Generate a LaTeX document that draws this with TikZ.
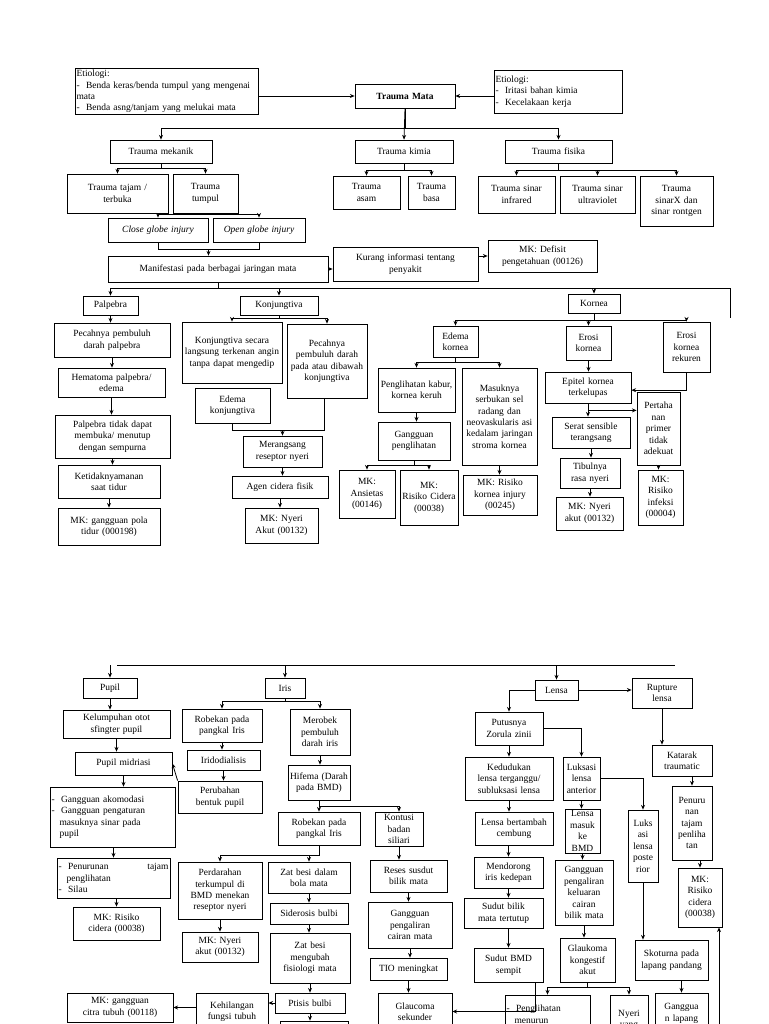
\documentclass[tikz,border=0pt]{standalone}
\usepackage{fontspec}
\setmainfont{Liberation Serif}
\usetikzlibrary{arrows.meta,calc}
\hyphenpenalty=10000 \exhyphenpenalty=10000 \tolerance=9999 \emergencystretch=10pt
\tikzset{
 bx/.style={draw,line width=0.6pt,inner sep=1.2pt,font=\fontsize{7.1pt}{8.6pt}\selectfont},
 ar/.style={line width=0.6pt,-{Stealth[length=3.5pt,width=3pt]}},
 ln/.style={line width=0.6pt}
}
\newcommand\B[7][center]{\pgfmathsetmacro\bw{(#5-#3)*0.75}\pgfmathsetmacro\bh{(#6-#4)*0.75}\pgfmathsetmacro\tw{(#5-#3)*0.75-2.4}%
\node[bx,align=#1,minimum width=\bw pt,minimum height=\bh pt,text width=\tw pt] (#2) at ({(#3+#5)/2},{(#4+#6)/2}) {#7};}
\begin{document}
\begin{tikzpicture}[x=0.75pt,y=-0.75pt]
\useasboundingbox (0,0) rectangle (768,1024);
\clip (0,0) rectangle (768,1024);
\fill[white] (0,0) rectangle (768,1024);
% ---- top
\B[left]{e1}{75}{70}{258}{113}{Etiologi:\\- \ Benda keras/benda tumpul yang mengenai mata\\- \ Benda asng/tanjam yang melukai mata}
\B{tm}{355}{84}{455}{108}{\textbf{Trauma Mata}}
\B[left]{e2}{494}{70}{622}{113}{Etiologi:\\- \ Iritasi bahan kimia\\- \ Kecelakaan kerja}
\draw[ar] (e1.east|-tm) -- (tm.west);
\draw[ar] (e2.west|-tm) -- (tm.east);
\B{mek}{110}{140}{212}{163}{Trauma mekanik}
\B{kim}{355}{140}{453}{163}{Trauma kimia}
\B{fis}{505}{140}{612}{163}{Trauma fisika}
\draw[ar] (tm.south) -- ++(0,20) -| (mek.north);
\draw[ar] (tm.south) -- (kim.north);
\draw[ar] (tm.south) -- ++(0,20) -| (fis.north);
\B{taj}{67}{174}{168}{213}{Trauma tajam /\\terbuka}
\B{tum}{173}{174}{238}{213}{Trauma\\tumpul}
\draw[ar] (mek.south) -- ++(0,5) -| (taj.north);
\draw[ar] (mek.south) -- ++(0,5) -| (tum.north);
\B{asa}{333}{176}{400}{209}{Trauma\\asam}
\B{bas}{408}{176}{455}{209}{Trauma\\basa}
\draw[ar] (kim.south) -- ++(0,7) -| (asa.north);
\draw[ar] (kim.south) -- ++(0,7) -| (bas.north);
\B{inf}{478}{176}{555}{213}{Trauma sinar infrared}
\B{ult}{560}{176}{635}{213}{Trauma sinar ultraviolet}
\B{snx}{640}{176}{713}{226}{Trauma\\sinarX dan\\sinar rontgen}
\draw[ar] (fis.south) -- ++(0,7) -| (inf.north);
\draw[ar] (fis.south) -- ++(0,7) -| (ult.north);
\draw[ar] (fis.south) -- ++(0,7) -| (snx.north);
\B{cg}{108}{218}{208}{242}{\textit{Close globe injury}}
\B{og}{213}{218}{305}{242}{\textit{Open globe injury}}
\draw[ar] (tum.south) -- ++(0,1) -| (cg.north);
\draw[ar] (tum.south) -- ++(0,1) -| (og.north);
\B{man}{108}{256}{328}{282}{Manifestasi pada berbagai jaringan mata}
\coordinate (cgm) at ($(cg.south)!0.5!(og.south)$);
\draw[ln] (cg.south) -- ++(0,7) -| (og.south);
\draw[ar] ([yshift=-5.25pt]cgm) -- (cgm|-man.north);
\B{kur}{333}{247}{478}{281}{Kurang informasi tentang\\penyakit}
\B{def}{488}{240}{597}{272}{MK: Defisit\\pengetahuan (00126)}
\draw[ar] (man.east) -- (man.east-|kur.west);
\draw[ar] (kur.east|-def) -- (def.west);
% ---- manifestations
\B{pal}{83}{296}{138}{315}{Palpebra}
\B{kon}{240}{296}{318}{315}{Konjungtiva}
\B{kor}{568}{294}{620}{313}{Kornea}
\coordinate (kend) at (730,318);
\draw[ar] (man.south) -- ++(0,6) -| (pal.north);
\draw[ar] (man.south) -- ++(0,6) -| (kon.north);
\draw[ar] (man.south) -- ++(0,6) -| (kor.north);
\draw[ln] (man.south) -- ++(0,6) -| (kend);
% palpebra
\B{p1}{54}{323}{170}{357}{Pecahnya pembuluh darah palpebra}
\B{p2}{58}{368}{165}{397}{Hematoma palpebra/\\edema}
\B{p3}{55}{415}{170}{458}{Palpebra tidak dapat membuka/ menutup dengan sempurna}
\B{p4}{58}{465}{160}{498}{Ketidaknyamanan saat tidur}
\B{p5}{58}{508}{160}{545}{MK: gangguan pola tidur (000198)}
\draw[ar] (pal.south) -- (pal.south|-p1.north);
\draw[ar] (p1.south) -- (p1.south|-p2.north);
\draw[ar] (p2.south) -- (p2.south|-p3.north);
\draw[ar] (p3.south) -- (p3.south|-p4.north);
\draw[ar] (p4.south) -- (p4.south|-p5.north);
% konjungtiva
\B{k1}{182}{322}{282}{383}{Konjungtiva secara langsung terkenan angin tanpa dapat mengedip}
\B{k2}{287}{324}{367}{398}{Pecahnya pembuluh darah pada atau dibawah konjungtiva}
\draw[ar] (kon.south) -- ++(0,3) -| (k1.north);
\draw[ar] (kon.south) -- ++(0,3) -| (k2.north);
\B{k3}{195}{388}{270}{423}{Edema konjungtiva}
\B{k4}{243}{436}{322}{467}{Merangsang reseptor nyeri}
\B{k5}{232}{476}{328}{498}{Agen cidera fisik}
\B{k6}{245}{508}{318}{543}{MK: Nyeri Akut (00132)}
\draw[ln] (k3.south) -- ++(0,7) -| ([xshift=-2pt]k2.south);
\draw[ar] ([yshift=-5.25pt]k3.south-|k4.north) -- (k4.north);
\draw[ar] (k4.south) -- (k4.south|-k5.north);
\draw[ar] (k5.south) -- (k5.south|-k6.north);
% kornea
\B{c1}{433}{326}{478}{357}{Edema kornea}
\B{c2}{566}{326}{611}{360}{Erosi kornea}
\B{c3}{663}{322}{710}{372}{Erosi kornea rekuren}
\draw[ar] (kor.south) -- ++(0,7) -| (c1.north);
\draw[ar] (kor.south) -- ++(0,7) -| (c2.north);
\draw[ar] (kor.south) -- ++(0,7) -| (c3.north);
\B{c4}{378}{368}{455}{412}{Penglihatan kabur, kornea keruh}
\B{c5}{462}{368}{537}{465}{Masuknya serbukan sel radang dan neovaskularis asi kedalam jaringan stroma kornea}
\draw[ar] (c1.south) -- ++(0,5) -| (c4.north);
\draw[ar] (c1.south) -- ++(0,5) -| (c5.north);
\B{c6}{378}{422}{450}{460}{Gangguan penglihatan}
\draw[ar] (c4.south) -- (c4.south|-c6.north);
\B{c7}{339}{470}{395}{518}{MK:\\Ansietas (00146)}
\B{c8}{400}{470}{458}{525}{MK:\\Risiko Cidera (00038)}
\draw[ar] (c6.south) -- ++(0,5) -| (c7.north);
\draw[ar] (c6.south) -- ++(0,5) -| (c8.north);
\B{c9}{463}{475}{537}{515}{MK: Risiko kornea injury (00245)}
\draw[ar] (c5.south) -- (c5.south|-c9.north);
\B{c10}{545}{372}{631}{403}{Epitel kornea terkelupas}
\draw[ar] (c2.south) -- (c2.south|-c10.north);
\draw[ar] (c3.south) |- ([yshift=-2pt]c10.east);
\B{c11}{637}{392}{680}{465}{Pertaha nan primer tidak adekuat}
\B{c12}{552}{417}{630}{448}{Serat sensible terangsang}
\B{c13}{560}{458}{620}{488}{Tibulnya rasa nyeri}
\B{c14}{556}{497}{623}{530}{MK: Nyeri akut (00132)}
\B{c15}{638}{470}{683}{525}{MK: Risiko infeksi (00004)}
\draw[ar] (c10.south) -- (c10.south|-c12.north);
\draw[ar] ([yshift=-5.25pt]c10.south) -- ([yshift=-5.25pt]c10.south-|c11.west);
\draw[ar] (c12.south) -- (c12.south|-c13.north);
\draw[ar] (c13.south) -- (c13.south|-c14.north);
\draw[ar] (c11.south) -- (c11.south|-c15.north);
% ---- bottom section
\coordinate (bl1) at (117,665);
\coordinate (bl2) at (675,665);
\draw[ln] (bl1) -- (bl2);
\B{pup}{83}{678}{137}{698}{Pupil}
\B{iri}{265}{678}{305}{698}{Iris}
\B{len}{535}{680}{578}{700}{Lensa}
\B{rup}{632}{678}{692}{708}{Rupture\\lensa}
\draw[ar] (pup.north|-bl1) -- (pup.north);
\draw[ar] (iri.north|-bl1) -- (iri.north);
\draw[ar] (len.north|-bl1) -- (len.north);
\draw[ar] (len.east) -- (len.east-|rup.west);
% pupil
\B{u1}{63}{710}{170}{738}{Kelumpuhan otot sfingter pupil}
\B{u2}{75}{752}{172}{775}{Pupil midriasi}
\B[left]{u3}{50}{787}{175}{847}{- \ Gangguan akomodasi\\- \ Gangguan pengaturan\\\hspace*{6pt}masuknya sinar pada\\\hspace*{6pt}pupil}
\B[left]{u4}{57}{858}{170}{898}{- \ Penurunan\hfill tajam\\\hspace*{6pt}penglihatan\\- \ Silau}
\B{u5}{73}{907}{160}{940}{MK: Risiko cidera (00038)}
\draw[ar] (pup.south) -- (pup.south|-u1.north);
\draw[ar] (u1.south) -- (u1.south|-u2.north);
\draw[ar] (u2.south) -- (u2.south|-u3.north);
\draw[ar] (u3.south-|u4.north) -- (u4.north);
\draw[ar] (u4.south-|u5.north) -- (u5.north);
% iris
\B{i1}{182}{709}{262}{742}{Robekan pada pangkal Iris}
\B{i2}{290}{709}{350}{755}{Merobek pembuluh darah iris}
\draw[ar] (iri.south) -- ++(0,3) -| (i1.north);
\draw[ar] (iri.south) -- ++(0,3) -| (i2.north);
\B{i3}{187}{750}{260}{770}{Iridodialisis}
\B{i4}{178}{781}{262}{813}{Perubahan bentuk pupil}
\draw[ar] (i1.south) -- (i1.south|-i3.north);
\draw[ar] (i3.south) -- (i3.south|-i4.north);
\draw[ar] (i4.north west) -- (u2.east);
\B{i5}{288}{765}{350}{800}{Hifema (Darah pada BMD)}
\draw[ar] (i2.south) -- (i2.south|-i5.north);
\B{i6}{278}{812}{360}{845}{Robekan pada pangkal Iris}
\B{i7}{375}{812}{423}{846}{Kontusi\\badan siliari}
\draw[ar] (i5.south) -- ++(0,6) -| (i6.north);
\draw[ar] (i5.south) -- ++(0,6) -| (i7.north);
\B{i8}{178}{862}{262}{919}{Perdarahan terkumpul di BMD menekan reseptor nyeri}
\B{i9}{268}{862}{350}{893}{Zat besi dalam bola mata}
\draw[ar] (i6.south) -- ++(0,10) -| (i8.north);
\draw[ar] (i6.south) -- ++(0,10) -| (i9.north);
\B{i10}{182}{932}{258}{962}{MK: Nyeri akut (00132)}
\draw[ar] (i8.south) -- (i8.south|-i10.north);
\B{i11}{270}{903}{348}{924}{Siderosis bulbi}
\B{i12}{270}{933}{350}{983}{Zat besi\\mengubah\\fisiologi mata}
\B{i13}{275}{993}{345}{1013}{Ptisis bulbi}
\B{i14}{196}{993}{268}{1030}{Kehilangan fungsi tubuh}
\B{i15}{67}{993}{173}{1022}{MK: gangguan citra tubuh (00118)}
\B{i16}{280}{1021}{348}{1040}{}
\draw[ar] (i9.south) -- (i9.south|-i11.north);
\draw[ar] (i11.south) -- (i11.south|-i12.north);
\draw[ar] (i12.south) -- (i12.south|-i13.north);
\draw[ar] (i13.west) -- (i14.east|-i13.west);
\draw[ar] (i14.west|-i15.east) -- (i15.east);
\draw[ar] (i13.south) -- (i13.south|-i16.north);
\B{j1}{370}{860}{447}{892}{Reses susdut bilik mata}
\B{j2}{368}{902}{452}{948}{Gangguan pengaliran cairan mata}
\B{j3}{370}{958}{447}{980}{TIO meningkat}
\B{j4}{378}{993}{452}{1030}{Glaucoma sekunder}
\draw[ar] (i7.south) -- (i7.south|-j1.north);
\draw[ar] (j1.south) -- (j1.south|-j2.north);
\draw[ar] (j2.south) -- (j2.south|-j3.north);
\draw[ar] (j3.south) -- (j3.south|-j4.north);
% lensa
\B{l1}{475}{712}{543}{745}{Putusnya Zorula zinii}
\draw[ar] (len.west) -| (l1.north);
\B{l2}{465}{757}{553}{800}{Kedudukan lensa terganggu/ subluksasi lensa}
\B{l3}{563}{757}{600}{800}{Luksasi lensa anterior}
\draw[ar] (l1.south) -- (l1.south|-l2.north);
\draw[ar] (l1.east) -| (l3.north);
\B{l4}{475}{812}{553}{845}{Lensa bertambah cembung}
\B{l5}{474}{857}{543}{888}{Mendorong iris kedepan}
\B{l6}{464}{898}{543}{928}{Sudut bilik mata tertutup}
\B{l7}{474}{948}{543}{982}{Sudut BMD sempit}
\draw[ar] (l2.south) -- (l2.south|-l4.north);
\draw[ar] (l4.south-|l5.north) -- (l5.north);
\draw[ar] (l5.south) -- (l5.south|-l6.north);
\draw[ar] (l6.south-|l7.north) -- (l7.north);
\draw[ar] ([xshift=20pt]l7.south) |- (j4.east);
\B{l8}{628}{810}{658}{882}{Luks asi lensa poste rior}
\draw[ar] (l3.east) -| (l8.north);
\B{l9}{565}{810}{600}{852}{Lensa masuk ke BMD}
\B{l10}{555}{860}{613}{925}{Gangguan pengaliran keluaran cairan bilik mata}
\B{l11}{560}{938}{615}{982}{Glaukoma kongestif akut}
\draw[ar] (l3.south) -- (l3.south|-l9.north);
\draw[ar] (l9.south) -- (l9.south|-l10.north);
\draw[ar] (l10.south) -- (l10.south|-l11.north);
\B[left]{l12}{505}{995}{590}{1045}{- \ Penglihatan\\\hspace*{6pt}menurun\\\hspace*{6pt}mendadak}
\B{l13}{610}{995}{648}{1045}{Nyeri yang}
\draw[ar] (l11.south) -- ++(0,5) -| (l12.north);
\draw[ar] (l11.south) -- ++(0,5) -| (l13.north);
\B{l14}{635}{940}{708}{980}{Skoturna pada lapang pandang}
\B{l15}{655}{993}{708}{1045}{Ganggua n lapang pandang}
\draw[ar] (l8.south) -- (l8.south|-l14.north);
\draw[ar] (l14.south-|l15.north) -- (l15.north);
\B{r1}{652}{745}{712}{776}{Katarak traumatic}
\B{r2}{672}{786}{712}{860}{Penuru nan tajam penliha tan}
\B{r3}{678}{868}{722}{927}{MK: Risiko cidera (00038)}
\draw[ar] (rup.south) -- (rup.south|-r1.north);
\draw[ar] (r1.south-|r2.north) -- (r2.north);
\draw[ar] (r2.south-|r3.north) -- (r3.north);
\coordinate (rb) at (719,1030);
\draw[ar] (rb) -- (rb|-r3.south);
\end{tikzpicture}
\end{document}
